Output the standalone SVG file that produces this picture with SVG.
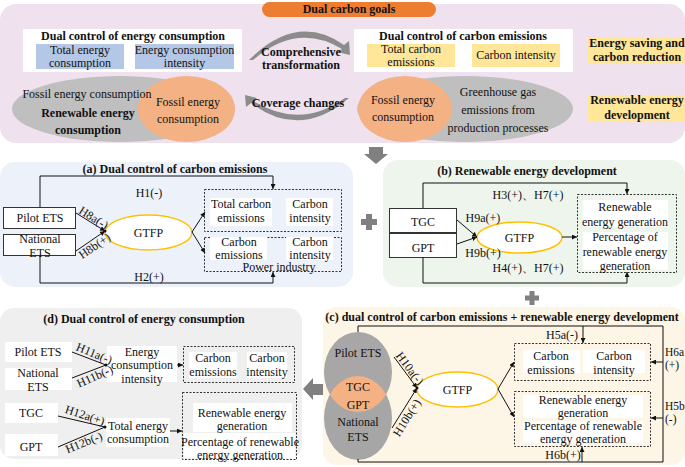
<svg xmlns="http://www.w3.org/2000/svg" width="685" height="467" viewBox="0 0 685 467" font-family="'Liberation Serif', 'DejaVu Serif', 'Times New Roman', Times, serif">
<defs>
<style>
.t{font-family:'Liberation Serif','DejaVu Serif','Times New Roman',Times,serif;font-size:12px;fill:#111;text-anchor:middle}
.b{font-weight:bold}
.s{text-anchor:start;font-size:11.5px}
.ln{fill:none;stroke:#111;stroke-width:1}
.dash{fill:none;stroke:#333;stroke-width:1;stroke-dasharray:2 1.5}
.wb{fill:#fff}
.bx{fill:#fff;stroke:#333;stroke-width:1}
.gt{fill:#fff;stroke:#ffc000;stroke-width:1.5}
.ga{fill:#808080}
</style>
<marker id="ah" viewBox="0 0 6 6" refX="6" refY="3" markerWidth="5" markerHeight="5" orient="auto">
<path d="M0,0 L6,3 L0,6 Z" fill="#111"/>
</marker>
<clipPath id="topc"><ellipse cx="358" cy="372" rx="34" ry="40"/></clipPath>
</defs>

<!-- top panel -->
<g id="top-panel">
<rect x="0" y="4" width="685" height="139" rx="16" fill="#efe1ed"/>
<rect x="262" y="2" width="174" height="15" rx="7.5" fill="#ed7d31"/>
<text class="t b" x="349" y="13">Dual carbon goals</text>
</g>
<g id="energy-dual">
<rect x="23" y="29" width="219" height="43" class="wb"/>
<text class="t b" x="133" y="40">Dual control of energy consumption</text>
<rect x="36" y="44" width="88" height="25" fill="#b4c7e7"/>
<rect x="135" y="44" width="99" height="25" fill="#b4c7e7"/>
<text class="t" x="80" y="54">Total energy</text>
<text class="t" x="80" y="67">consumption</text>
<text class="t" x="184.5" y="54">Energy consumption</text>
<text class="t" x="184.5" y="67">intensity</text>
</g>
<g id="carbon-dual">
<rect x="354" y="29" width="219" height="43" class="wb"/>
<text class="t b" x="463" y="40">Dual control of carbon emissions</text>
<rect x="367" y="44" width="88" height="23" fill="#ffe699"/>
<rect x="472" y="44" width="88" height="23" fill="#ffe699"/>
<text class="t" x="411" y="53">Total carbon</text>
<text class="t" x="411" y="66">emissions</text>
<text class="t" x="516" y="59">Carbon intensity</text>
</g>
<g id="energy-coverage">
<ellipse cx="120" cy="109" rx="108" ry="33" fill="#bfbfbf"/>
<ellipse cx="186.5" cy="109" rx="48.5" ry="33" fill="#f4b183"/>
<text class="t" x="87" y="98">Fossil energy consumption</text>
<text class="t b" x="88" y="117">Renewable energy</text>
<text class="t b" x="88" y="134">consumption</text>
<text class="t" x="188" y="106">Fossil energy</text>
<text class="t" x="188" y="123">consumption</text>
</g>
<g id="carbon-coverage">
<ellipse cx="465" cy="109" rx="108" ry="33" fill="#bfbfbf"/>
<ellipse cx="405" cy="109" rx="47" ry="33" fill="#f4b183"/>
<text class="t" x="403" y="104">Fossil energy</text>
<text class="t" x="403" y="121">consumption</text>
<text class="t" x="498" y="96">Greenhouse gas</text>
<text class="t" x="498" y="114">emissions from</text>
<text class="t" x="498" y="132">production processes</text>
</g>
<g id="transform">
<path d="M249 60 Q297 12 344 45 L349 41 L350 55 L337 52 L342 49 Q297 22 253 60 Z" fill="#8c8c8c"/>
<text class="t b" x="301" y="56">Comprehensive</text>
<text class="t b" x="301" y="69">transformation</text>
<path d="M349 98 Q300 140 251 103 L246 107 L245 95 L257 98 L253 101 Q300 130 345 98 Z" fill="#8c8c8c"/>
<text class="t b" x="298" y="107">Coverage changes</text>
</g>
<g id="goals">
<rect x="588" y="37" width="97" height="26" fill="#ffe699"/>
<text class="t b" x="637" y="47">Energy saving and</text>
<text class="t b" x="637" y="61">carbon reduction</text>
<rect x="588" y="95" width="97" height="26" fill="#ffe699"/>
<text class="t b" x="637" y="104">Renewable energy</text>
<text class="t b" x="637" y="119">development</text>
</g>

<!-- symbols between panels -->
<g id="symbols">
<path d="M369 147 H383 V154 H388 L376 164 L364 154 H369 Z" class="ga"/>
<rect x="361" y="219" width="16" height="6" class="ga"/>
<rect x="366" y="214" width="6" height="16" class="ga"/>
<rect x="525" y="295.5" width="14" height="5" class="ga"/>
<rect x="529.5" y="291" width="5" height="14" class="ga"/>
<path d="M303 389 L313 378 V384 H323 V395 H313 V400 Z" class="ga"/>
</g>

<!-- panel a -->
<g id="panel-a">
<rect x="0" y="162" width="353" height="125" rx="15" fill="#edf2fa"/>
<text class="t b" x="175" y="173">(a) Dual control of carbon emissions</text>
</g>
<g id="a-pilot"><rect x="3.5" y="207.5" width="72" height="21" class="bx"/><text class="t" x="40" y="222">Pilot ETS</text></g>
<g id="a-national"><rect x="3.5" y="234.5" width="72" height="21" class="bx"/><text class="t" x="40" y="243">National</text><text class="t" x="40" y="257">ETS</text></g>
<g id="a-gtfp"><ellipse cx="148.5" cy="232.5" rx="43.5" ry="17.5" class="gt"/><text class="t" x="148.5" y="237">GTFP</text></g>
<g id="a-carbon">
<rect x="204.5" y="189.5" width="137" height="42" class="dash"/>
<rect x="210" y="198" width="62" height="28" class="wb"/>
<rect x="286" y="198" width="47" height="28" class="wb"/>
<text class="t" x="241" y="208">Total carbon</text><text class="t" x="241" y="222">emissions</text>
<text class="t" x="310" y="208">Carbon</text><text class="t" x="310" y="222">intensity</text>
</g>
<g id="a-power">
<rect x="204.5" y="237.5" width="137" height="34" class="dash"/>
<rect x="210" y="237" width="57" height="23" class="wb"/>
<rect x="286" y="237" width="47" height="23" class="wb"/>
<text class="t" x="239" y="246">Carbon</text><text class="t" x="239" y="259">emissions</text>
<text class="t" x="310" y="246">Carbon</text><text class="t" x="310" y="259">intensity</text>
<text class="t" x="279" y="271">Power industry</text>
</g>

<!-- panel b -->
<g id="panel-b">
<rect x="383" y="160" width="302" height="127" rx="15" fill="#eef5ec"/>
<text class="t b" x="527" y="175">(b) Renewable energy development</text>
</g>
<g id="b-tgc"><rect x="389.5" y="208.5" width="67" height="24" class="bx"/><text class="t" x="423" y="226">TGC</text></g>
<g id="b-gpt"><rect x="389.5" y="233.5" width="67" height="24" class="bx"/><text class="t" x="423" y="252">GPT</text></g>
<g id="b-gtfp"><ellipse cx="519.5" cy="237.5" rx="42.5" ry="15.5" class="gt"/><text class="t" x="519.5" y="242">GTFP</text></g>
<g id="b-renew">
<rect x="577.5" y="194.5" width="99" height="78" class="dash"/>
<rect x="583" y="200" width="85" height="27" class="wb"/>
<rect x="583" y="232" width="85" height="38" class="wb"/>
<text class="t" x="625" y="211">Renewable</text>
<text class="t" x="625" y="226">energy generation</text>
<text class="t" x="625" y="241">Percentage of</text>
<text class="t" x="625" y="256">renewable energy</text>
<text class="t" x="625" y="270">generation</text>
</g>

<!-- panel d -->
<g id="panel-d">
<rect x="0" y="308" width="302" height="151" rx="14" fill="#efefef"/>
<text class="t b" x="144" y="323">(d) Dual control of energy consumption</text>
</g>
<g id="d-pilot"><rect x="5" y="342" width="67" height="20" class="wb"/><text class="t" x="38" y="356">Pilot ETS</text></g>
<g id="d-national"><rect x="5" y="368" width="67" height="22" class="wb"/><text class="t" x="38" y="377">National</text><text class="t" x="38" y="391">ETS</text></g>
<g id="d-intensity"><rect x="107" y="346" width="70" height="36" class="wb"/><text class="t" x="142" y="356">Energy</text><text class="t" x="142" y="369">consumption</text><text class="t" x="142" y="383">intensity</text></g>
<g id="d-carbon">
<rect x="183.5" y="346.5" width="111" height="36" class="dash"/>
<rect x="189" y="352" width="48" height="26" class="wb"/>
<rect x="247" y="352" width="40" height="26" class="wb"/>
<text class="t" x="213" y="362">Carbon</text><text class="t" x="213" y="376">emissions</text>
<text class="t" x="267" y="362">Carbon</text><text class="t" x="267" y="376">intensity</text>
</g>
<g id="d-tgc"><rect x="5" y="403" width="53" height="20" class="wb"/><text class="t" x="31" y="417">TGC</text></g>
<g id="d-gpt"><rect x="5" y="434" width="53" height="22" class="wb"/><text class="t" x="31" y="451">GPT</text></g>
<g id="d-total"><rect x="106" y="418" width="64" height="29" class="wb"/><text class="t" x="138" y="430">Total energy</text><text class="t" x="138" y="443">consumption</text></g>
<g id="d-renew">
<rect x="182.5" y="392.5" width="114" height="67" class="dash"/>
<rect x="193" y="403" width="99" height="29" class="wb"/>
<rect x="184" y="433" width="111" height="25" class="wb"/>
<text class="t" x="242" y="417">Renewable energy</text>
<text class="t" x="242" y="430">generation</text>
<text class="t" x="240" y="446">Percentage of renewable</text>
<text class="t" x="240" y="459">energy generation</text>
</g>

<!-- panel c -->
<g id="panel-c">
<rect x="323" y="307" width="362" height="158" rx="14" fill="#fdf5e5"/>
<text class="t b" x="502" y="321">(c) dual control of carbon emissions + renewable energy development</text>
</g>
<g id="c-instruments">
<ellipse cx="358" cy="372" rx="34" ry="40" fill="#a8a6a6"/>
<ellipse cx="358" cy="418" rx="34" ry="42" fill="#a6a6a6"/>
<ellipse cx="358" cy="418" rx="34" ry="42" fill="#f4b183" clip-path="url(#topc)"/>
<text class="t" x="358" y="357">Pilot ETS</text>
<text class="t" x="358" y="391">TGC</text>
<text class="t" x="358" y="409">GPT</text>
<text class="t" x="358" y="426">National</text>
<text class="t" x="358" y="441">ETS</text>
</g>
<g id="c-gtfp"><ellipse cx="457.5" cy="389.5" rx="40.5" ry="17.5" class="gt"/><text class="t" x="457.5" y="394">GTFP</text></g>
<g id="c-carbon">
<rect x="514.5" y="343.5" width="136" height="37" class="dash"/>
<rect x="523" y="350" width="57" height="23" class="wb"/>
<rect x="583" y="350" width="62" height="23" class="wb"/>
<text class="t" x="551" y="360">Carbon</text><text class="t" x="551" y="374">emissions</text>
<text class="t" x="614" y="360">Carbon</text><text class="t" x="614" y="374">intensity</text>
</g>
<g id="c-renew">
<rect x="514.5" y="391.5" width="136" height="55" class="dash"/>
<rect x="523" y="395" width="120" height="23" class="wb"/>
<rect x="523" y="421" width="120" height="22" class="wb"/>
<text class="t" x="583" y="404">Renewable energy</text>
<text class="t" x="583" y="417">generation</text>
<text class="t" x="583" y="430">Percentage of renewable</text>
<text class="t" x="583" y="443">energy generation</text>
</g>

<!-- connectors -->
<g id="connectors">
<path class="ln" d="M40 207 V176 H273 V189" marker-end="url(#ah)"/>
<path class="ln" d="M40 256 V283 H273 V272" marker-end="url(#ah)"/>
<line class="ln" x1="76" y1="213" x2="105" y2="231" marker-end="url(#ah)"/>
<line class="ln" x1="76" y1="251" x2="105" y2="231" marker-end="url(#ah)"/>
<circle cx="105" cy="231" r="1.5" fill="#111"/>
<line class="ln" x1="192" y1="232" x2="205" y2="212" marker-end="url(#ah)"/>
<line class="ln" x1="192" y1="232" x2="205" y2="253" marker-end="url(#ah)"/>
<text class="t" x="149" y="197">H1(-)</text>
<text class="t" x="149" y="281">H2(+)</text>
<text class="t" transform="translate(91,222) rotate(32)" y="-1">H8a(-)</text>
<text class="t" transform="translate(91,241) rotate(-35)" y="10">H8b(+)</text>

<path class="ln" d="M423 208 V183 H627 V194" marker-end="url(#ah)"/>
<path class="ln" d="M423 257 V283 H627 V272" marker-end="url(#ah)"/>
<line class="ln" x1="457" y1="220" x2="477" y2="237" marker-end="url(#ah)"/>
<line class="ln" x1="457" y1="244" x2="477" y2="237" marker-end="url(#ah)"/>
<line class="ln" x1="562" y1="237" x2="577" y2="237" marker-end="url(#ah)"/>
<text class="t" x="528" y="199">H3(+)、H7(+)</text>
<text class="t" x="528" y="272">H4(+)、H7(+)</text>
<text class="t" x="483" y="222">H9a(+)</text>
<text class="t" x="483" y="257">H9b(+)</text>

<line class="ln" x1="72" y1="352" x2="106" y2="365"/>
<line class="ln" x1="72" y1="378" x2="106" y2="365"/>
<circle cx="106" cy="365" r="1.5" fill="#111"/>
<line class="ln" x1="177" y1="365" x2="183" y2="365" marker-end="url(#ah)"/>
<line class="ln" x1="58" y1="416" x2="105" y2="427"/>
<line class="ln" x1="58" y1="447" x2="105" y2="427"/>
<circle cx="105" cy="427" r="1.5" fill="#111"/>
<line class="ln" x1="170" y1="431" x2="182" y2="431" marker-end="url(#ah)"/>
<text class="t" transform="translate(92,359) rotate(22)" y="-2">H11a(-)</text>
<text class="t" transform="translate(92,370) rotate(-24)" y="11">H11b(-)</text>
<text class="t" transform="translate(83,421) rotate(18)" y="-2">H12a(+)</text>
<text class="t" transform="translate(82,438) rotate(-22)" y="9">H12b(-)</text>

<path class="ln" d="M358 332 V326 H663 V462 H358 V459"/>
<line class="ln" x1="583" y1="326" x2="583" y2="343" marker-end="url(#ah)"/>
<line class="ln" x1="582" y1="462" x2="582" y2="447" marker-end="url(#ah)"/>
<line class="ln" x1="663" y1="362" x2="651" y2="362" marker-end="url(#ah)"/>
<line class="ln" x1="663" y1="418" x2="651" y2="418" marker-end="url(#ah)"/>
<line class="ln" x1="394" y1="357" x2="417" y2="388" marker-end="url(#ah)"/>
<line class="ln" x1="392" y1="428" x2="417" y2="388" marker-end="url(#ah)"/>
<circle cx="417" cy="388" r="1.5" fill="#111"/>
<line class="ln" x1="498" y1="389" x2="514" y2="362" marker-end="url(#ah)"/>
<line class="ln" x1="498" y1="389" x2="514" y2="417" marker-end="url(#ah)"/>
<text class="t" x="562" y="339">H5a(-)</text>
<text class="t" x="563" y="459">H6b(+)</text>
<text class="t s" x="665" y="356">H6a</text>
<text class="t s" x="665" y="369">(+)</text>
<text class="t s" x="665" y="410">H5b</text>
<text class="t s" x="665" y="423">(-)</text>
<text class="t" transform="translate(405,372) rotate(53)" y="-2">H10a(-)</text>
<text class="t" transform="translate(401,414) rotate(-58)" y="11">H10b(+)</text>
</g>
</svg>
